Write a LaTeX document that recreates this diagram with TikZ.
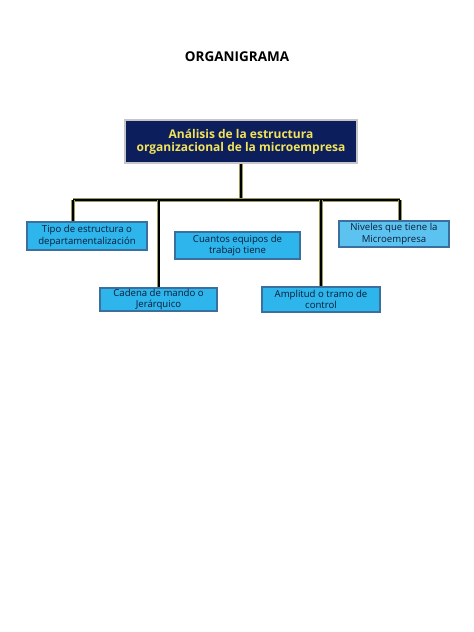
\documentclass[tikz,border=0pt]{standalone}
\usepackage{fontspec}
\setmainfont{Open Sans}
\usepackage{tikz}
\usetikzlibrary{positioning}

\definecolor{navybox}{HTML}{0C1E5C}
\definecolor{titleyellow}{HTML}{F2E35A}
\definecolor{skyfill}{HTML}{2DB5EC}
\definecolor{skylight}{HTML}{5CC3F1}
\definecolor{skyline}{HTML}{3B6F9E}
\definecolor{skytext}{HTML}{0C1C36}
\definecolor{glow}{HTML}{9A9A5A}

\tikzset{
  topbox/.style = {draw=gray!45, line width=1.2pt, fill=navybox,
    text=titleyellow, font=\fontsize{12}{13}\selectfont\bfseries,
    align=center, minimum width=232pt, minimum height=43pt},
  itembox/.style = {draw=skyline, line width=1.2pt, fill=skyfill,
    text=skytext, font=\fontsize{9.6}{11.3}\selectfont, align=center,
    inner sep=0pt},
  conn/.style = {draw=glow, line width=0.7pt, double=black,
    double distance=2pt}
}

\begin{document}
\begin{tikzpicture}[x=1pt, y=-1pt]
                \useasboundingbox[fill=white] (0,0) rectangle (474,632);

                \node (titulo) at (237,56.5) {\fontsize{13.5}{15}\selectfont\bfseries ORGANIGRAMA};

                \node (analisis) [topbox] at (241,141.5) {An\'alisis de la estructura\\organizacional de la microempresa};

                \node (tipo) [itembox, minimum width=120pt, minimum height=28pt] at (87,236) {Tipo de estructura o\\departamentalizaci\'on};
                \node (cuantos) [itembox, minimum width=125pt, minimum height=27pt] at (237.5,245.5) {Cuantos equipos de\\trabajo tiene};
                \node (niveles) [itembox, fill=skylight, minimum width=110pt, minimum height=26pt] at (394,234) {Niveles que tiene la\\Microempresa};
                \node (cadena) [itembox, minimum width=117pt, minimum height=23pt] at (158.5,299.5) {Cadena de mando o\\Jer\'arquico};
                \node (amplitud) [itembox, minimum width=118pt, minimum height=25pt] at (321,299.5) {Amplitud o tramo de\\control};

                \coordinate (barL) at (73,200);
                \coordinate (barR) at (400,200);

                \draw[conn] (analisis.south) -- (analisis.south |- barL);
                \draw[conn] (barL) -- (barR);
                \draw[conn] (barL) -- (tipo.north -| barL);
                \draw[conn] (cadena.north |- barL) -- (cadena.north);
                \draw[conn] (amplitud.north |- barL) -- (amplitud.north);
                \draw[conn] (barR) -- (niveles.north -| barR);
            \end{tikzpicture}
\end{document}
